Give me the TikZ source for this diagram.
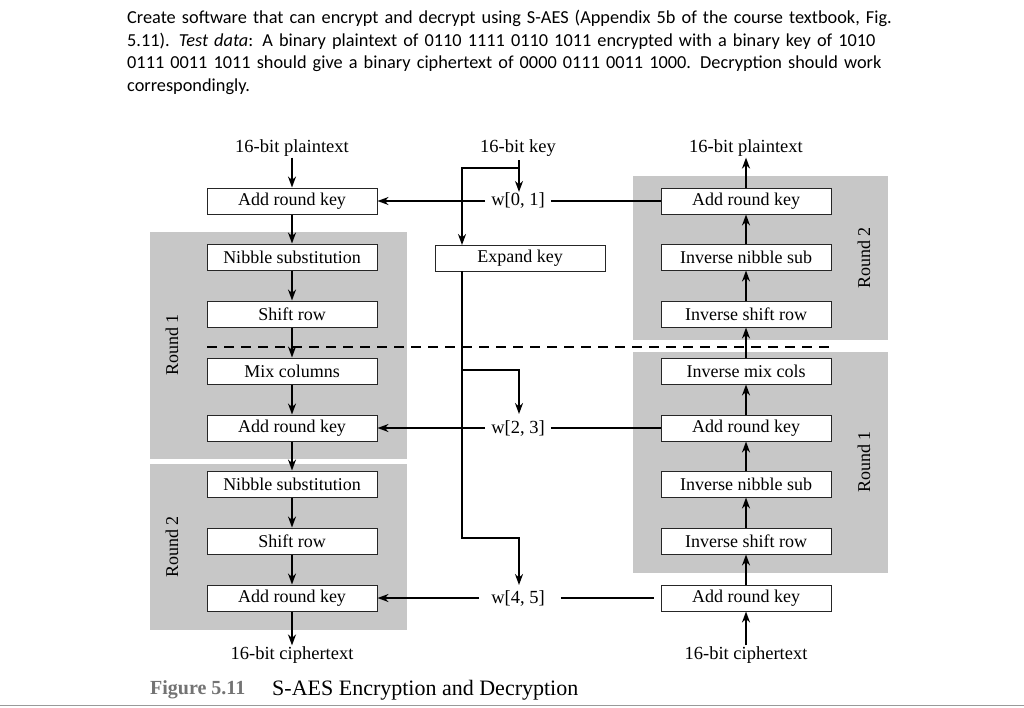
\documentclass[tikz,border=0pt]{standalone}
\usepackage{fontspec}
\setmainfont{Liberation Serif}
\newfontfamily\hdr{Carlito}
\usetikzlibrary{arrows.meta}
\begin{document}
\begin{tikzpicture}[x=1pt,y=-1pt,
  box/.style={draw=black!85,line width=1pt,fill=white,minimum width=170pt,minimum height=26pt,inner sep=0pt,font=\fontsize{18}{18}\selectfont},
  lbl/.style={font=\fontsize{18.5}{18}\selectfont,inner sep=1pt},
  wl/.style={font=\fontsize{18.5}{18}\selectfont,inner xsep=6pt,inner ysep=1pt},
  rnd/.style={font=\fontsize{18}{18}\selectfont,rotate=90},
  ar/.style={line width=2.2pt,-{Stealth[length=11pt,width=8pt]}},
  ln/.style={line width=2.2pt}]
\useasboundingbox (0,0) rectangle (1024,707);
\node[anchor=north west,text width=775pt,align=left,inner sep=0pt,font=\hdr\fontsize{18.3}{22.5}\selectfont] (hd) at (127,10)
{Create software that can encrypt and decrypt using S-AES (Appendix 5b of the course textbook, Fig. 5.11). \textit{Test data}: A binary plaintext of 0110 1111 0110 1011 encrypted with a binary key of 1010 0111 0011 1011 should give a binary ciphertext of 0000 0111 0011 1000. Decryption should work correspondingly.};
% grey areas
\fill[black!22] (150,232) rectangle (407,459);
\fill[black!22] (150,464) rectangle (407,630);
\fill[black!22] (633,176) rectangle (888,340);
\fill[black!22] (633,352) rectangle (888,573);
\node[rnd] (r1l) at (172,345) {Round 1};
\node[rnd] (r2l) at (172,547) {Round 2};
\node[rnd] (r2r) at (864,258) {Round 2};
\node[rnd] (r1r) at (864,462) {Round 1};
% left
\node[lbl] (pt) at (292,148) {16-bit plaintext};
\node[box] (l1) at (292,201) {Add round key};
\node[box] (l2) at (292,257) {Nibble substitution};
\node[box] (l3) at (292,314) {Shift row};
\node[box] (l4) at (292,371) {Mix columns};
\node[box] (l5) at (292,428) {Add round key};
\node[box] (l6) at (292,484) {Nibble substitution};
\node[box] (l7) at (292,541) {Shift row};
\node[box] (l8) at (292,598) {Add round key};
\node[lbl] (ct) at (292,655) {16-bit ciphertext};
% right
\node[lbl] (pt2) at (746,148) {16-bit plaintext};
\node[box] (r1) at (746,201) {Add round key};
\node[box] (r2) at (746,257) {Inverse nibble sub};
\node[box] (r3) at (746,314) {Inverse shift row};
\node[box] (r4) at (746,371) {Inverse mix cols};
\node[box] (r5) at (746,428) {Add round key};
\node[box] (r6) at (746,484) {Inverse nibble sub};
\node[box] (r7) at (746,541) {Inverse shift row};
\node[box] (r8) at (746,598) {Add round key};
\node[lbl] (ct2) at (746,655) {16-bit ciphertext};
% middle
\node[lbl] (key) at (518,148) {16-bit key};
\node[wl] (w01) at (518,201) {w[0, 1]};
\node[box] (ek) at (520,258) {Expand key};
\node[wl] (w23) at (518,428) {w[2, 3]};
\node[wl] (w45) at (518,598) {w[4, 5]};
% dashed
\draw[line width=2.4pt,dash pattern=on 10pt off 7pt] (207,347) -- (831,347);
% vertical arrows
\draw[ar] (pt) -- (l1);
\foreach \a/\b in {l1/l2,l2/l3,l3/l4,l4/l5,l5/l6,l6/l7,l7/l8,l8/ct} \draw[ar] (\a) -- (\b);
\foreach \a/\b in {ct2/r8,r8/r7,r7/r6,r6/r5,r5/r4,r4/r3,r3/r2,r2/r1,r1/pt2} \draw[ar] (\a) -- (\b);
% key lines
\coordinate (kt) at (519,160);
\draw[ar] (kt) -- (kt |- w01.north);
\draw[ar] (519,168) -- (462,168) -- (462,245);
\draw[ln] (462,271) -- (462,538) -- (519,538);
\draw[ar] (519,537) -- (519,585);
\draw[ar] (462,370) -- (519,370) -- (519,414);
\draw[ar] (w01.west) -- (l1.east);
\draw[ar] (w23.west) -- (l5.east);
\draw[ar] (w45.west) ++(-6,0) -- (l8.east);
\draw[ln] (w01.east) -- (r1.west);
\draw[ln] (w23.east) -- (r5.west);
\draw[ln] (w45.east) ++(10,0) -- ([xshift=-7pt]r8.west);
% caption
\node[anchor=west,inner sep=0pt,font=\fontsize{20}{20}\selectfont\bfseries,text=black!55] (fig) at (150,690) {Figure 5.11};
\node[anchor=west,inner sep=0pt,font=\fontsize{22}{22}\selectfont] (cap) at (272,690) {S-AES Encryption and Decryption};
\draw[black!40,line width=1pt] (0,705) -- (1024,705);
\end{tikzpicture}
\end{document}
